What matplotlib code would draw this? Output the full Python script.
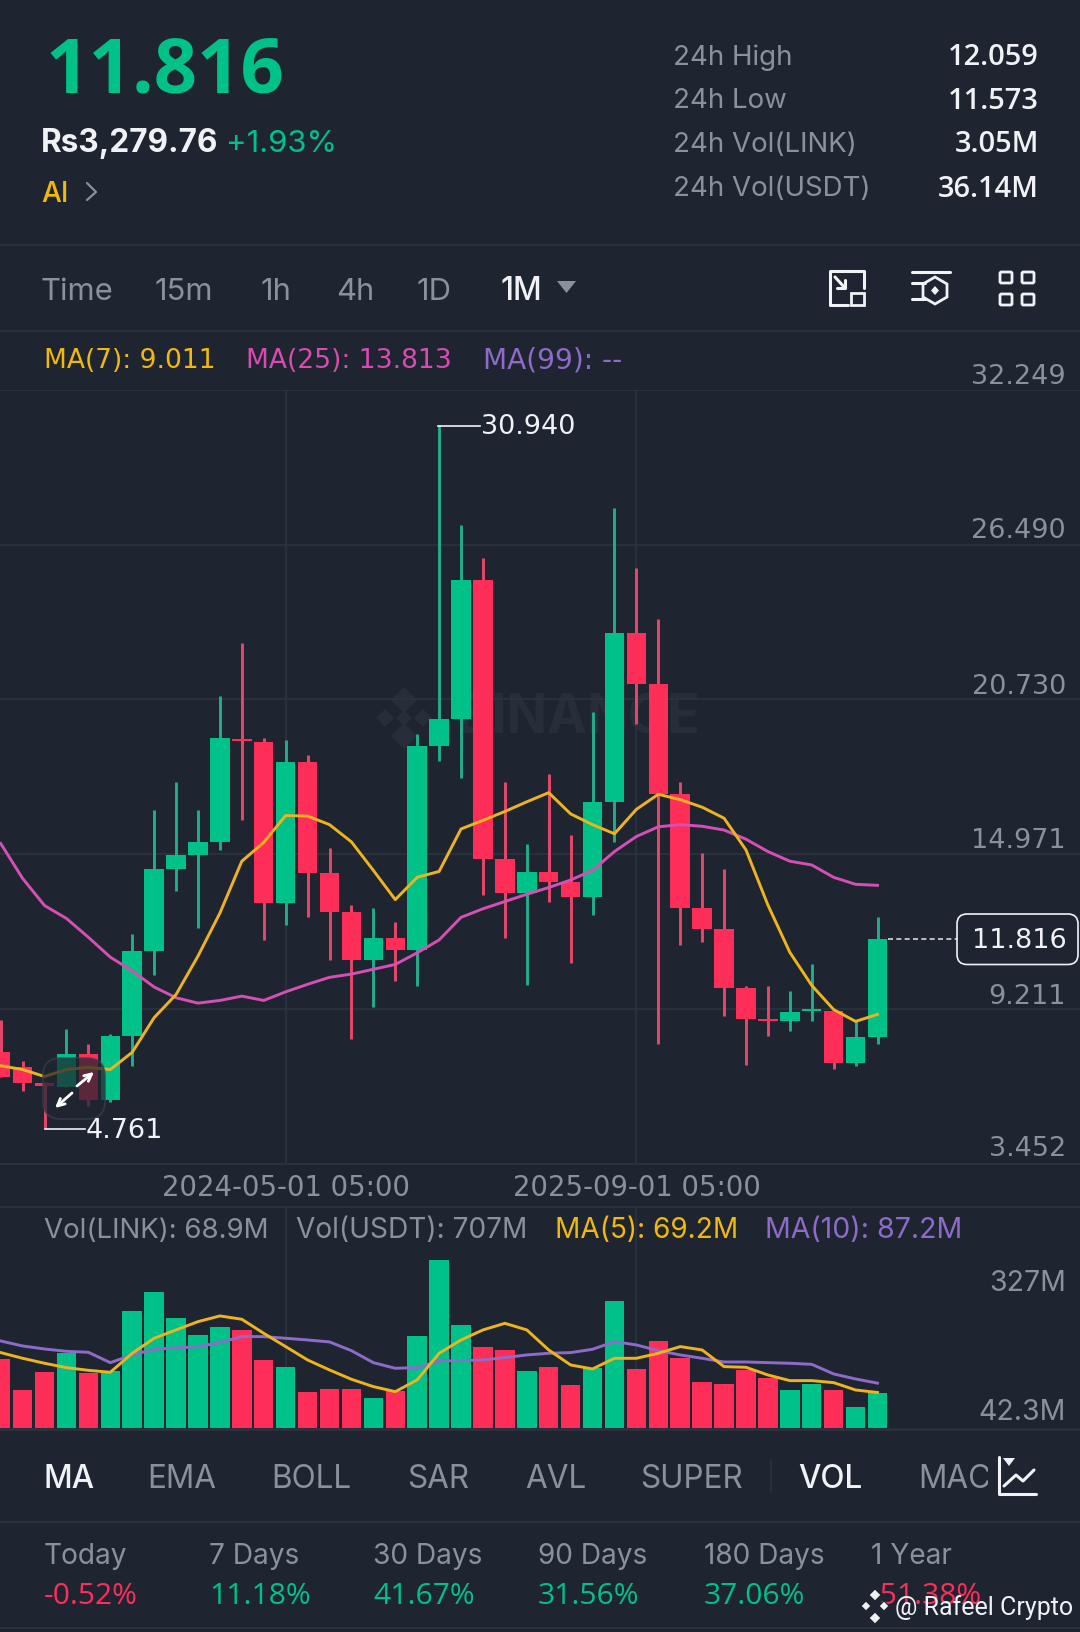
import matplotlib
matplotlib.use("Agg")
import matplotlib.pyplot as plt
from matplotlib.patches import FancyBboxPatch, Rectangle, Polygon

plt.rcParams['font.family'] = ['Inter', 'DejaVu Sans']

# ---------- data ----------
opens  = [7.60,7.04,6.46,6.30,7.52,5.84,8.19,11.36,14.41,14.95,15.43,19.24,19.16,13.14,18.40,14.27,12.82,11.02,11.84,11.40,19.00,20.01,25.17,14.81,13.52,14.29,13.95,13.36,16.92,23.20,21.31,17.22,12.96,12.20,9.99,8.85,8.77,9.15,9.15,7.20,8.17]
highs  = [8.79,7.26,6.50,8.45,7.90,8.27,12.02,16.60,17.66,16.60,20.85,22.84,19.28,19.22,18.66,15.21,13.08,12.98,12.46,19.45,30.94,27.21,25.99,17.66,15.35,17.96,15.67,20.27,27.84,25.63,23.72,17.66,15.01,14.41,10.07,10.07,9.87,10.87,9.19,8.79,12.62]
lows   = [6.70,6.16,4.761,6.30,5.60,5.74,7.10,10.49,13.62,12.22,15.13,16.23,11.78,12.34,12.62,11.04,8.08,9.27,10.25,10.05,18.42,17.82,13.44,11.84,10.09,13.18,10.93,12.72,15.43,19.81,7.90,11.58,11.72,8.95,7.14,8.19,8.39,8.75,6.98,7.08,7.90]
closes = [6.70,6.46,6.34,7.52,5.84,8.19,11.36,14.41,14.95,15.43,19.28,19.18,13.14,18.40,14.27,12.82,11.02,11.84,11.40,19.00,20.01,25.17,14.81,13.52,14.29,13.95,13.36,16.92,23.20,21.31,17.22,12.96,12.20,9.99,8.85,8.77,9.11,9.21,7.20,8.17,11.816]
ma7    = [7.10,6.96,6.70,6.96,7.04,6.96,7.60,8.89,9.75,11.18,12.78,14.71,15.41,16.41,16.39,16.07,15.43,14.37,13.28,14.11,14.33,15.91,16.23,16.56,16.92,17.26,16.47,16.07,15.73,16.64,17.20,17.00,16.72,16.31,15.13,13.08,11.32,10.09,9.19,8.75,9.011]
ma25   = [15.37,14.07,13.06,12.58,11.88,11.14,10.63,10.03,9.63,9.43,9.53,9.69,9.53,9.85,10.13,10.39,10.51,10.69,10.87,11.30,11.78,12.62,12.94,13.21,13.48,13.73,14.01,14.37,15.07,15.63,15.99,16.07,16.01,15.87,15.53,15.07,14.71,14.57,14.11,13.85,13.813]
volume = [133.9,74.0,109.5,146.2,106.9,110.8,227.3,262.7,212.5,180.3,195.1,189.3,131.4,119.1,70.2,76.0,76.0,59.2,72.8,177.7,324.5,199.6,156.5,150.7,110.1,117.8,84.4,115.9,246.6,114.0,168.1,136.5,88.9,85.0,112.7,96.6,74.0,85.6,74.0,41.9,68.9]
vol_ma5 = [146.2,135.2,125.6,117.2,112.0,108.2,144.9,173.9,190.0,206.0,217.0,210.6,183.5,157.8,132.0,112.7,94.7,80.5,70.8,93.4,144.9,170.6,190.0,202.8,190.0,151.3,122.3,114.6,135.2,135.2,144.9,157.8,151.3,119.1,117.8,103.0,92.1,92.1,88.2,74.0,69.2]
vol_ma10 = [168.7,159.0,153.2,148.7,146.8,126.8,141.7,152.6,155.2,157.8,165.5,177.1,177.1,173.9,170.6,166.8,150.0,126.8,115.9,117.2,130.1,130.7,132.0,136.5,141.7,144.9,146.2,152.6,167.4,161.0,150.0,141.7,135.2,128.1,128.1,126.8,125.6,123.6,105.0,95.3,87.2]
price_ticks = [32.249,26.490,20.730,14.971,9.211,3.452]
price_tick_labels = ['32.249','26.490','20.730','14.971','9.211','3.452']
date_idx = [13,29]
date_labels = ['2024-05-01 05:00','2025-09-01 05:00']

# ---------- style ----------
W, H = 1080, 1632
BG='#1E2531'; GRID='#2C333F'; GREEN='#00C187'; RED='#FF2E58'
WG='#22AD8C'; WR='#E8476A'
GOLD='#F0B90B'; PINK='#D94BB0'; PURPLE='#8E6BC9'
GRAY='#8B919C'; WHITE='#F0F2F5'; YLINE='#EDB41E'; PLINE='#D64FB5'
INTER=['Inter','DejaVu Sans']; DJ=['DejaVu Sans']; OS=['Open Sans','DejaVu Sans']; RB=['Roboto','DejaVu Sans']

fig = plt.figure(figsize=(W/100,H/100),dpi=100,facecolor=BG)
def axpx(top,bottom,z=1):
    return fig.add_axes([0,1-bottom/H,1,(bottom-top)/H],zorder=z)
PX0=0.7; PXS=21.92
xlim=(-PX0/PXS,(W-PX0)/PXS)
n=len(closes); xs=list(range(n))

# background layer (watermark sits behind the candles)
bg=fig.add_axes([0,0,1,1],zorder=0); bg.set_xlim(0,W); bg.set_ylim(H,0); bg.axis('off')
WM='#272E3A'
bg.text(456,719,'BINANCE',fontsize=38.5,color=WM,fontweight='bold',va='center',family=INTER)
for cx,cy,r in [(404,700,13),(385,718,9),(423,718,9),(404,736,13),(404,718,8)]:
    bg.add_patch(Polygon([(cx,cy-r),(cx+r,cy),(cx,cy+r),(cx-r,cy)],closed=True,color=WM,lw=0))

# price pane
ax=axpx(389.8,1163.8); ax.patch.set_alpha(0)
ax.set_xlim(*xlim); ax.set_ylim(price_ticks[-1],price_ticks[0])
for p in price_ticks:
    ax.axhline(p,color=GRID,lw=1.2,zorder=1)
for i in date_idx:
    ax.axvline(i,ymin=0,ymax=1,color=GRID,lw=1.2,zorder=1)
for i in xs:
    up=closes[i]>=opens[i]
    ax.vlines(i,lows[i],highs[i],color=WG if up else WR,lw=2.1,zorder=3)
    ax.bar(i,abs(closes[i]-opens[i]),bottom=min(opens[i],closes[i]),width=0.89,color=GREEN if up else RED,zorder=4,lw=0)
ax.plot(xs,ma25,color=PLINE,lw=2.1,zorder=5)
ax.plot(xs,ma7,color=YLINE,lw=2.1,zorder=6)
ax.axis('off')

# volume pane
axv=axpx(1206.7,1428.3); axv.patch.set_alpha(0)
axv.set_xlim(*xlim); axv.set_ylim(0,428)
for i in date_idx:
    axv.axvline(i,color=GRID,lw=1.2,zorder=1)
axv.bar(xs,volume,width=0.89,color=[GREEN if closes[i]>=opens[i] else RED for i in xs],lw=0,zorder=3)
axv.plot(xs,vol_ma10,color=PURPLE,lw=2.1,zorder=4)
axv.plot(xs,vol_ma5,color=YLINE,lw=2.1,zorder=5)
axv.axis('off')

# UI overlay in pixel coordinates
ui=fig.add_axes([0,0,1,1],zorder=5); ui.set_xlim(0,W); ui.set_ylim(H,0); ui.axis('off'); ui.patch.set_alpha(0)
def t(x,y,s,px=28,c=GRAY,ha='left',w='normal',z=10,fam=INTER):
    ui.text(x,y,s,fontsize=px*0.72,color=c,ha=ha,va='center',fontweight=w,zorder=z,family=fam)
def hl(y,x0=0,x1=W,c=GRID,lw=1.3):
    ui.plot([x0,x1],[y,y],color=c,lw=lw,zorder=2)
def line(xy,c=WHITE,lw=2.2,z=9):
    ui.plot([p[0] for p in xy],[p[1] for p in xy],color=c,lw=lw,solid_capstyle='round',solid_joinstyle='round',zorder=z)

# header
t(45,73,'11.816',76,GREEN,w='bold',fam=OS)
t(41,143.5,'Rs3,279.76',31.5,WHITE,w='bold')
t(226,143.5,'+1.93%',31,GREEN)
t(41,194,'AI',28,GOLD,w='medium')
line([(87,183),(96,192),(87,200)],GRAY,1.6)
for y,l,v in [(57.5,'24h High','12.059'),(101.5,'24h Low','11.573'),(145,'24h Vol(LINK)','3.05M'),(189.5,'24h Vol(USDT)','36.14M')]:
    t(673,y,l,27.7,GRAY)
    t(1039,y,v,29,WHITE,ha='right',w='semibold',fam=OS)
hl(245); hl(331)

# tabs
for x,s in [(40,'Time'),(155,'15m'),(261,'1h'),(336,'4h'),(417,'1D')]:
    t(x,292,s,31,GRAY)
t(501,292,'1M',31.5,WHITE,w='medium')
ui.add_patch(Polygon([(557,281),(576,281),(566.5,293)],closed=True,color=GRAY,lw=0,zorder=9))
# toolbar icons
line([(846,271),(830,271),(830,305),(848,305)])
line([(846,271),(864,271),(864,288)])
ui.add_patch(Rectangle((851,293),13,12,fill=False,ec=WHITE,lw=2,zorder=9))
line([(835,277),(845,288)]); line([(845,280),(845,288),(837,288)])
line([(912,272),(950,272)]); line([(912,283),(925,283)]); line([(912,299),(925,299)])
ui.add_patch(Polygon([(935,277),(947,284),(947,297),(935,304),(923,297),(923,284)],closed=True,fill=False,ec=WHITE,lw=2,zorder=9))
ui.add_patch(Polygon([(935,286),(939,290.5),(935,295),(931,290.5)],closed=True,color=WHITE,lw=0,zorder=9))
for x in (999,1021):
    for y in (271,293):
        ui.add_patch(FancyBboxPatch((x+1,y+1),12,11,boxstyle='round,pad=0,rounding_size=1.5',fill=False,ec=WHITE,lw=2,zorder=9))

# MA legend
t(44,360.5,'MA(7): 9.011',26.5,GOLD,fam=DJ)
t(246,360.5,'MA(25): 13.813',26.5,PINK,fam=DJ)
t(483,360.5,'MA(99): --',28,PURPLE,fam=DJ)
# price axis labels
for y,s in zip([377.5,531.5,686.5,841.5,997,1148.5],price_tick_labels):
    t(1066,y,s,27,GRAY,ha='right',fam=DJ)

# hi / lo annotations
ui.plot([438,480],[425.7,425.7],color=WHITE,lw=1.2,zorder=8)
t(481,426.5,'30.940',27,WHITE,fam=DJ)
ui.plot([44.5,85],[1129,1129],color=WHITE,lw=1.2,zorder=8)
t(86,1130.5,'4.761',27,WHITE,fam=DJ)
# last price tag
ui.plot([888,957],[938.8,938.8],color='#D8DBE0',lw=1.2,ls=(0,(3,2)),zorder=8)
ui.add_patch(FancyBboxPatch((957,914),121,50.5,boxstyle='round,pad=0,rounding_size=10',fc=BG,ec=WHITE,lw=1.2,zorder=8))
t(1019,940.5,'11.816',27,WHITE,ha='center',fam=DJ)

# expand overlay
ui.add_patch(FancyBboxPatch((43,1058),62,61,boxstyle='round,pad=0,rounding_size=18',fc=BG,ec='#3A414C',alpha=0.72,lw=1.2,zorder=7))
ui.annotate('',xy=(94,1072),xytext=(77,1086),arrowprops=dict(arrowstyle='->',color='white',lw=2,shrinkA=0,shrinkB=0,mutation_scale=13),zorder=9)
ui.annotate('',xy=(55,1108),xytext=(72,1093),arrowprops=dict(arrowstyle='->',color='white',lw=2,shrinkA=0,shrinkB=0,mutation_scale=13),zorder=9)

# date labels
hl(1163.8); hl(1206.7)
t(286,1188,date_labels[0],27.5,GRAY,ha='center',fam=DJ)
t(637,1188,date_labels[1],27.5,GRAY,ha='center',fam=DJ)

# volume legend
t(44,1230.5,'Vol(LINK): 68.9M',27.7,GRAY)
t(296,1230.5,'Vol(USDT): 707M',28,GRAY)
t(555,1230.5,'MA(5): 69.2M',28,GOLD)
t(765,1230.5,'MA(10): 87.2M',28.5,PURPLE)
t(1066,1283.5,'327M',28.5,GRAY,ha='right')
t(1066,1412,'42.3M',28.5,GRAY,ha='right')
hl(1429,lw=1.8)

# indicator tabs
for x,s,c,wt in [(43,'MA',WHITE,'medium'),(147.5,'EMA',GRAY,'normal'),(271.5,'BOLL',GRAY,'normal'),(407.5,'SAR',GRAY,'normal'),(525.5,'AVL',GRAY,'normal'),(640.5,'SUPER',GRAY,'normal'),(798,'VOL',WHITE,'medium'),(918,'MAC',GRAY,'normal')]:
    t(x,1479.5,s,31.5,c,w=wt)
ui.plot([771,771],[1460,1492],color=GRID,lw=1.2,zorder=2)
ui.add_patch(Rectangle((988,1450),15,55,fc=BG,lw=0,zorder=11))
line([(999,1457),(999,1494),(1036,1494)],WHITE,2.2,z=12)
line([(1004,1486),(1016,1475),(1023,1481),(1034,1470)],WHITE,2.2,z=12)
ui.add_patch(Polygon([(1003,1458),(1015,1458),(1009,1466)],closed=True,color=WHITE,lw=0,zorder=12))
hl(1522)

# period stats
for x,l,v,c in [(44,'Today','-0.52%',RED),(209,'7 Days','11.18%',GREEN),(373,'30 Days','41.67%',GREEN),(538,'90 Days','31.56%',GREEN),(704,'180 Days','37.06%',GREEN),(871,'1 Year','-51.38%',RED)]:
    t(x,1557,l,28,GRAY)
    t(x,1596,v,30,c,fam=OS)
hl(1628)
# footer watermark
t(895,1607.5,'@ Rafeel Crypto',25,WHITE,z=13,fam=RB)
for cx,cy,r in [(875,1595,6),(866,1606,5),(884,1606,5),(875,1618,6)]:
    ui.add_patch(Polygon([(cx,cy-r),(cx+r,cy),(cx,cy+r),(cx-r,cy)],closed=True,fc=WHITE,ec=BG,lw=0.8,zorder=13))

fig.savefig('out.png',dpi=100,facecolor=BG)
